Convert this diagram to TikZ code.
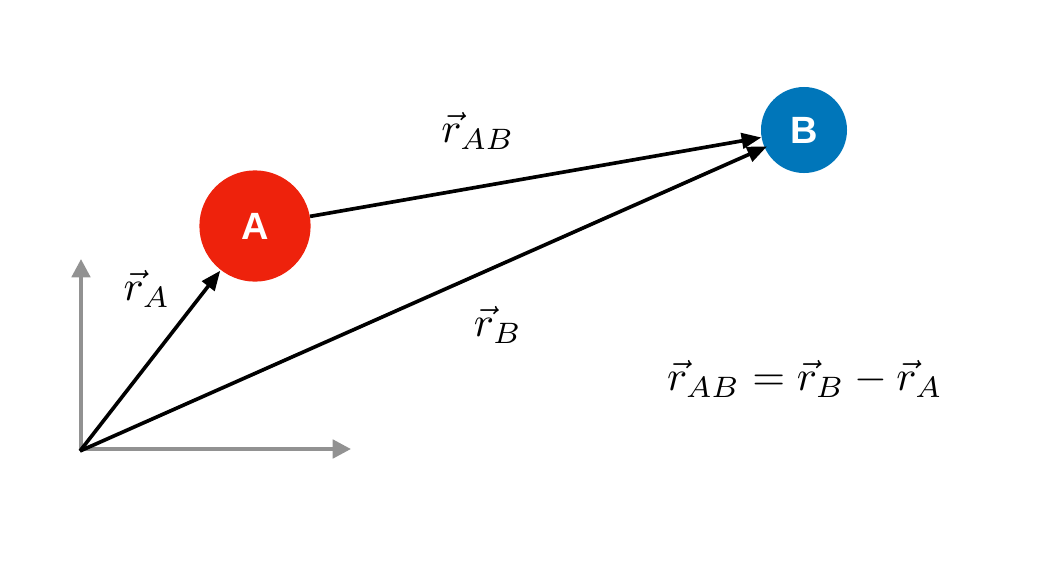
\documentclass[tikz,border=0pt]{standalone}
\usepackage{fontspec}
\setsansfont{Liberation Sans}
\usetikzlibrary{arrows.meta}

\definecolor{ballred}{HTML}{EE220C}
\definecolor{ballblue}{HTML}{0076BA}
\definecolor{axisgray}{HTML}{929292}

\newcommand\veclbl[1]{\scalebox{3}{$#1$}}

\tikzset{
  ball/.style={circle,fill=#1,inner sep=0pt,text=white,
    font=\sffamily\bfseries\fontsize{27}{30}\selectfont},
  vecline/.style={line width=2.6pt,-{Triangle[length=14pt,width=11pt]}},
  axisline/.style={axisgray,line width=2.8pt,-{Triangle[length=13pt,width=13pt]}},
  veclabel/.style={inner sep=0pt}
}

\begin{document}
\begin{tikzpicture}[x=0.025cm,y=-0.025cm]
\useasboundingbox (0,0) rectangle (1038,562);

% axes
\coordinate (O) at (80,451);
\coordinate (xend) at (351,449);
\coordinate (yend) at (81,259);
\draw[axisline] (81,449) -- (xend);
\draw[axisline] (81,449) -- (yend);

% particles
\node[ball=ballred,minimum size=2.78cm] (A) at (255,226) {A};
\node[ball=ballblue,minimum size=2.15cm] (B) at (804,130) {B};

% position vectors
\draw[vecline,shorten >=0.5pt] (O) -- (A);
\draw[vecline,shorten >=-2pt] (O) -- (B);
\draw[vecline] (A) -- (B);

\node[veclabel] (lA) at (147,289) {\veclbl{\vec r_A}};
\node[veclabel] (lAB) at (478,131) {\veclbl{\vec r_{AB}}};
\node[veclabel] (lB) at (498,325) {\veclbl{\vec r_B}};
\node[veclabel] (eq) at (805,379) {\veclbl{\vec r_{AB}=\vec r_B-\vec r_A}};
\end{tikzpicture}
\end{document}
